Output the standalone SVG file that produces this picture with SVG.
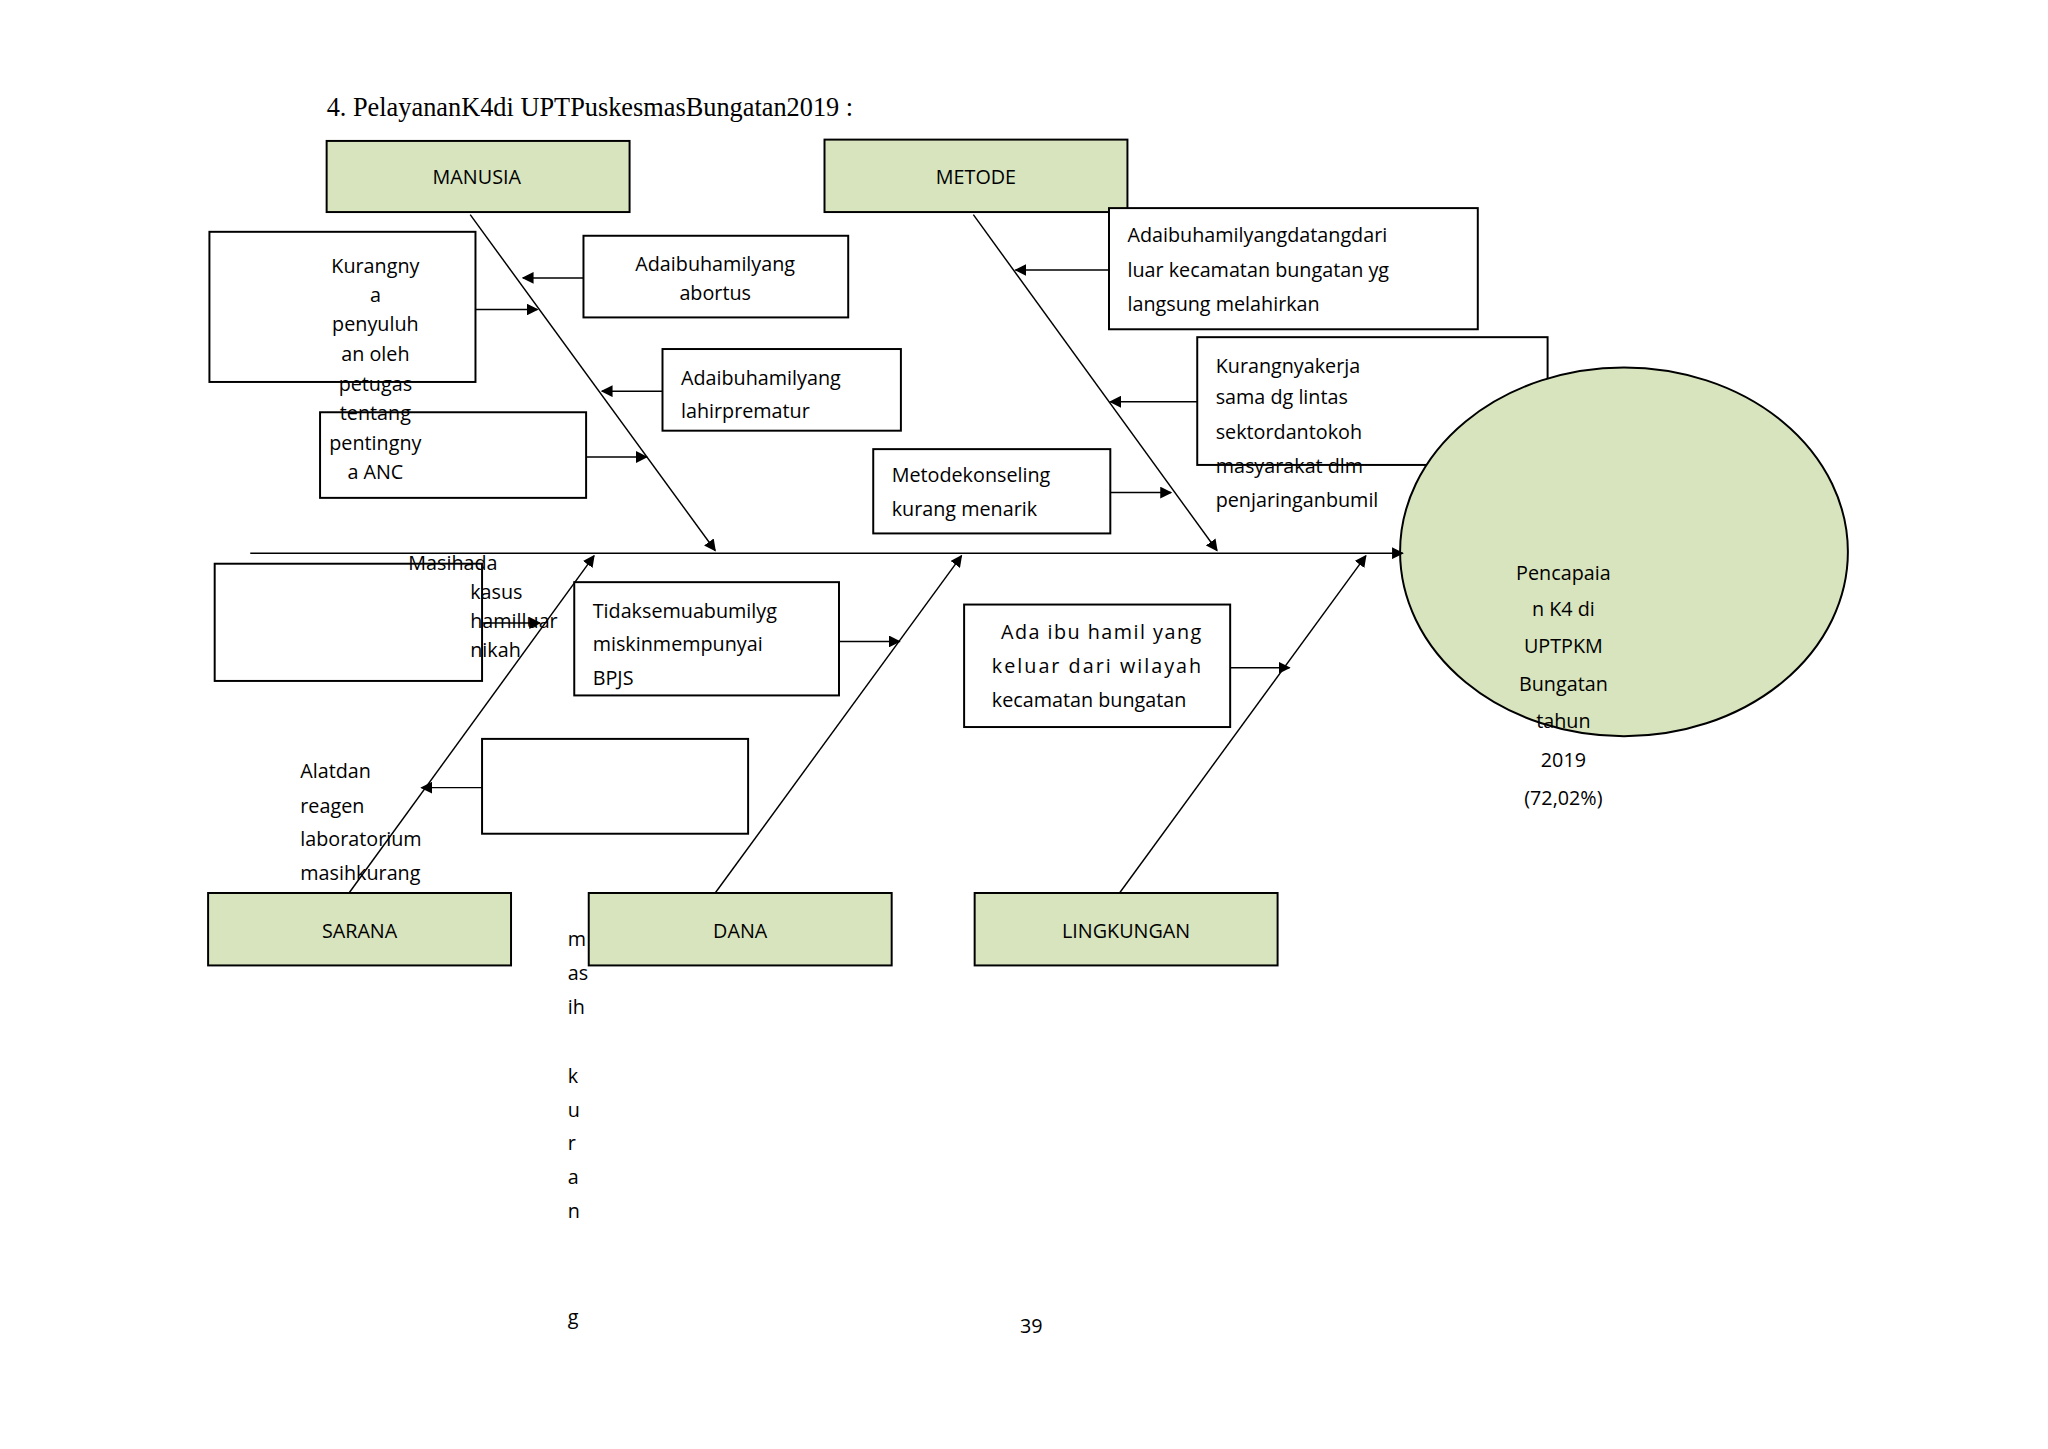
<svg xmlns="http://www.w3.org/2000/svg" width="2048" height="1449" viewBox="0 0 2048 1449">
<style>
.t{font-family:"Open Sans","Liberation Sans",sans-serif;font-size:15px;fill:#000}
.c{text-anchor:middle}
.b{fill:#fff;stroke:#000;stroke-width:1.5}
.g{fill:#d7e4bd;stroke:#000;stroke-width:1.5}
.l{stroke:#000;stroke-width:1.1;fill:none;marker-end:url(#a)}
</style>
<defs><marker id="a" viewBox="0 0 10 10" refX="9" refY="5" markerWidth="9" markerHeight="9" markerUnits="userSpaceOnUse" orient="auto"><path d="M0,0L10,5L0,10z" fill="#000"/></marker></defs>
<rect width="2048" height="1449" fill="#fff"/>
<g transform="scale(1.3171)">
<text x="248" y="88" style="font-family:'Liberation Serif',serif;font-size:20px">4.   PelayananK4di UPTPuskesmasBungatan2019 :</text>
<g id="manusia"><rect class="g" x="248" y="107" width="230" height="54"/><text class="t c" x="362" y="140">MANUSIA</text></g>
<g id="metode"><rect class="g" x="626" y="106" width="230" height="55"/><text class="t c" x="741" y="140">METODE</text></g>
<g id="sarana"><rect class="g" x="158" y="678" width="230" height="55"/><text class="t c" x="273" y="712">SARANA</text></g>
<g id="dana"><rect class="g" x="447" y="678" width="230" height="55"/><text class="t c" x="562" y="712">DANA</text></g>
<g id="lingkungan"><rect class="g" x="740" y="678" width="230" height="55"/><text class="t c" x="855" y="712">LINGKUNGAN</text></g>
<g id="b1"><rect class="b" x="159" y="176" width="202" height="114"/></g>
<g id="b2"><rect class="b" x="243" y="313" width="202" height="65"/></g>
<g id="b1t" class="t c"><text x="285" y="207">Kurangny</text><text x="285" y="229">a</text><text x="285" y="251">penyuluh</text><text x="285" y="274">an oleh</text><text x="285" y="297">petugas</text><text x="285" y="319">tentang</text><text x="285" y="342">pentingny</text><text x="285" y="364">a ANC</text></g>
<g id="b3"><rect class="b" x="443" y="179" width="201" height="62"/><text class="t c" x="543" y="206">Adaibuhamilyang</text><text class="t c" x="543" y="228">abortus</text></g>
<g id="b4"><rect class="b" x="503" y="265" width="181" height="62"/><text class="t" x="517" y="292">Adaibuhamilyang</text><text class="t" x="517" y="317">lahirprematur</text></g>
<g id="b5"><rect class="b" x="663" y="341" width="180" height="64"/><text class="t" x="677" y="366">Metodekonseling</text><text class="t" x="677" y="392">kurang menarik</text></g>
<g id="b6"><rect class="b" x="842" y="158" width="280" height="92"/><text class="t" x="856" y="184">Adaibuhamilyangdatangdari</text><text class="t" x="856" y="210">luar kecamatan bungatan yg</text><text class="t" x="856" y="236">langsung melahirkan</text></g>
<g id="b7"><rect class="b" x="909" y="256" width="266" height="97"/></g>
<g id="effect"><ellipse cx="1233" cy="419" rx="170" ry="140" fill="#d7e4bd" stroke="#000" stroke-width="1.5"/></g>
<g id="b7t" class="t"><text x="923" y="283">Kurangnyakerja</text><text x="923" y="307">sama dg lintas</text><text x="923" y="333">sektordantokoh</text><text x="923" y="359">masyarakat dlm</text><text x="923" y="385">penjaringanbumil</text></g>
<g id="efft" class="t c"><text x="1187" y="440">Pencapaia</text><text x="1187" y="468">n K4 di</text><text x="1187" y="496">UPTPKM</text><text x="1187" y="525">Bungatan</text><text x="1187" y="553">tahun</text><text x="1187" y="582">2019</text><text x="1187" y="611">(72,02%)</text></g>
<g id="b8"><rect class="b" x="163" y="428" width="203" height="89"/></g>
<g id="b8t" class="t"><text x="310" y="433">Masihada</text><text x="357" y="455">kasus</text><text x="357" y="477">hamilluar</text><text x="357" y="499">nikah</text></g>
<g id="b9"><rect class="b" x="436" y="442" width="201" height="86"/><text class="t" x="450" y="469">Tidaksemuabumilyg</text><text class="t" x="450" y="494">miskinmempunyai</text><text class="t" x="450" y="520">BPJS</text></g>
<g id="b10"><rect class="b" x="732" y="459" width="202" height="93"/><text class="t" x="760" y="485" textLength="152">Ada ibu hamil yang</text><text class="t" x="753" y="511" textLength="159">keluar dari wilayah</text><text class="t" x="753" y="537">kecamatan bungatan</text></g>
<g id="b11"><rect class="b" x="366" y="561" width="202" height="72"/></g>
<g id="alat" class="t"><text x="228" y="591">Alatdan</text><text x="228" y="617">reagen</text><text x="228" y="642">laboratorium</text><text x="228" y="668">masihkurang</text></g>
<g id="vert" class="t"><text x="431" y="718">m</text><text x="431" y="744">as</text><text x="431" y="770">ih</text><text x="431" y="822">k</text><text x="431" y="848">u</text><text x="431" y="873">r</text><text x="431" y="899">a</text><text x="431" y="925">n</text><text x="431" y="1005">g</text></g>
<text class="t c" x="783" y="1012">39</text>
<g id="connectors">
<line class="l" x1="190" y1="420" x2="1065" y2="420"/>
<line class="l" x1="357" y1="163" x2="543" y2="418"/>
<line class="l" x1="739" y1="163" x2="924" y2="418"/>
<line class="l" x1="265" y1="678" x2="451" y2="422"/>
<line class="l" x1="543" y1="678" x2="730" y2="422"/>
<line class="l" x1="850" y1="678" x2="1037" y2="422"/>
<line class="l" x1="361" y1="235" x2="408" y2="235"/>
<line class="l" x1="445" y1="347" x2="491" y2="347"/>
<line class="l" x1="443" y1="211" x2="397" y2="211"/>
<line class="l" x1="503" y1="297" x2="457" y2="297"/>
<line class="l" x1="843" y1="374" x2="889" y2="374"/>
<line class="l" x1="842" y1="205" x2="771" y2="205"/>
<line class="l" x1="909" y1="305" x2="843" y2="305"/>
<line class="l" x1="366" y1="473" x2="410" y2="473"/>
<line class="l" x1="637" y1="487" x2="683" y2="487"/>
<line class="l" x1="934" y1="507" x2="979" y2="507"/>
<line class="l" x1="366" y1="598" x2="320" y2="598"/>
</g>
</g>
</svg>
